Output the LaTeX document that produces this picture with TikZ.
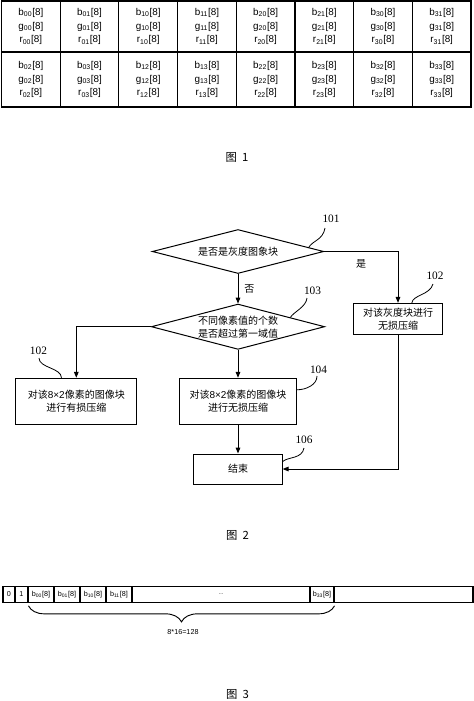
\documentclass[tikz,border=0pt]{standalone}
\usepackage{fontspec}
\setmainfont{Liberation Serif}
\newfontfamily\cjkf{Noto Sans CJK SC}
\newfontfamily\arialf{Liberation Sans}
\usetikzlibrary{shapes.geometric,arrows.meta,calc,decorations.pathreplacing}
\newcommand\cellt[1]{b\textsubscript{#1}[8]\\g\textsubscript{#1}[8]\\r\textsubscript{#1}[8]}
\newcommand\bsub[1]{b\textsubscript{#1}[8]}
\newcommand\ektwo{{\arialf 8×2}}
\begin{document}
\begin{tikzpicture}[x=0.75pt,y=-0.75pt,
  tcell/.style={draw, line width=0.9pt, minimum width=44.02pt, inner sep=0pt, align=center, font=\arialf\fontsize{7.4}{10.3}\selectfont},
  cjktext/.style={font=\cjkf\fontsize{7.5}{9.75}\selectfont},
  dia/.style={draw, diamond, line width=0.75pt, inner sep=0pt},
  pbox/.style={draw, rectangle, line width=0.75pt, inner sep=0pt, align=center, cjktext},
  num/.style={font=\fontsize{8.5}{10}\selectfont, inner sep=0pt},
  flow/.style={line width=0.75pt, -{Triangle[length=4.5pt,width=3.5pt]}},
  leader/.style={line width=0.6pt},
  capt/.style={font=\cjkf\fontsize{8.5}{10}\selectfont, inner sep=0pt},
  scell/.style={draw, line width=0.8pt, minimum height=11.7pt, inner sep=0pt, font=\arialf\fontsize{5.4}{6}\selectfont},
]
\useasboundingbox (0,0) rectangle (474,701);

% ---------- Figure 1 ----------
\foreach \i/\s in {0/00,1/01,2/10,3/11,4/20,5/21,6/30,7/31}
  \node[tcell, minimum height=38.25pt] (t\s) at ({1.5+58.69*(\i+0.5)},26.5) {\cellt{\s}};
\foreach \i/\s in {0/02,1/03,2/12,3/13,4/22,5/23,6/32,7/33}
  \node[tcell, minimum height=41.25pt] (t\s) at ({1.5+58.69*(\i+0.5)},79.5) {\cellt{\s}};
\node[capt] (f1) at (237,157) {图\hspace{4pt}1};

% ---------- Figure 2 ----------
\node[dia, minimum width=128.6pt, minimum height=33pt,
      label={[cjktext]center:是否是灰度图象块}] (d1) at (238,251.5) {};
\node[dia, minimum width=130pt, minimum height=34pt,
      label={[cjktext,align=center]center:不同像素值的个数\\是否超过第一域值}] (d2) at (238,326.7) {};
\node[pbox, minimum width=67pt, minimum height=23pt] (bR) at (398,318.7) {对该灰度块进行\\无损压缩};
\node[pbox, minimum width=90.5pt, minimum height=34.5pt] (bL) at (76.3,401.3) {对该\ektwo 像素的图像块\\进行有损压缩};
\node[pbox, minimum width=87.5pt, minimum height=34.5pt] (bM) at (238,401.3) {对该\ektwo 像素的图像块\\进行无损压缩};
\node[pbox, minimum width=66.2pt, minimum height=22.5pt] (bE) at (238,469) {结束};

\draw[flow] (d1.east) -| (bR.north) node[pos=0.25, below=2pt, cjktext] {是};
\draw[flow] (d1.south) -- (d2.north) node[midway, right=1pt, cjktext] {否};
\draw[flow] (d2.west) -| (bL.north);
\draw[flow] (d2.south) -- (bM.north);
\draw[flow] (bM.south) -- (bE.north);
\draw[flow] (bR.south) |- (bE.east);

% reference numbers
\node[num] (n101) at (331,219) {101};
\node[num] (n102r) at (435,276) {102};
\node[num] (n103) at (312.5,290.5) {103};
\node[num] (n102l) at (38.5,351) {102};
\node[num] (n104) at (318.5,370) {104};
\node[num] (n106) at (304,440) {106};

\coordinate (a101) at ($(d1.north)!0.82!(d1.east)$);
\coordinate (e101) at (325,228);
\draw[leader] (a101) .. controls +(4,-7) and +(-2,12) .. (e101);

\coordinate (a102r) at ($(bR.north west)+(59,0)$);
\coordinate (e102r) at (433,284);
\draw[leader] (a102r) .. controls +(1,-8) and +(-3,11) .. (e102r);

\coordinate (a103) at ($(d2.north)!0.6!(d2.east)$);
\coordinate (e103) at (307,298);
\draw[leader] (a103) .. controls +(4,-6) and +(-1,9) .. (e103);

\coordinate (e102l) at (39,358);
\coordinate (a102l) at ($(bL.north west)+(46,0)$);
\draw[leader] (e102l) .. controls +(0,10) and +(0,-10) .. (a102l);

\coordinate (a104) at ($(bM.north east)+(0,12)$);
\coordinate (e104) at (317,376);
\draw[leader] (a104) .. controls +(9,0) and +(0,9) .. (e104);

\coordinate (a106) at ($(bE.north east)+(0,8)$);
\coordinate (e106) at (304,448);
\draw[leader] (a106) .. controls +(6,-5) and +(-2,11) .. (e106);

\node[capt] (f2) at (237.5,535) {图\hspace{4pt}2};

% ---------- Figure 3 ----------
\node[scell, minimum width=9pt] (s0) at (9,594.5) {0};
\node[scell, minimum width=9.75pt] (s1) at (21.5,594.5) {1};
\node[scell, minimum width=19.5pt] (s2) at (41,594.5) {\bsub{00}};
\node[scell, minimum width=19.5pt] (s3) at (67,594.5) {\bsub{01}};
\node[scell, minimum width=19.5pt] (s4) at (93,594.5) {\bsub{10}};
\node[scell, minimum width=19.5pt] (s5) at (119,594.5) {\bsub{11}};
\node[scell, minimum width=133.5pt, font=\arialf\fontsize{4}{5}\selectfont] (s6) at (221,594.5) {...};
\node[scell, minimum width=18pt] (s7) at (322,594.5) {\bsub{33}};
\node[scell, minimum width=104.25pt] (s8) at (403.5,594.5) {};

\coordinate (bra) at ($(s2.south west)+(1,3)$);
\coordinate (brb) at ($(s7.south east)+(0,3)$);
\draw[line width=0.7pt, decorate, decoration={brace, mirror, amplitude=12pt}] (bra) -- (brb);
\node[font=\arialf\fontsize{5.4}{6}\selectfont, inner sep=0pt] (n128) at (183,632) {8*16=128};

\node[capt] (f3) at (237.5,694) {图\hspace{4pt}3};
\end{tikzpicture}
\end{document}
